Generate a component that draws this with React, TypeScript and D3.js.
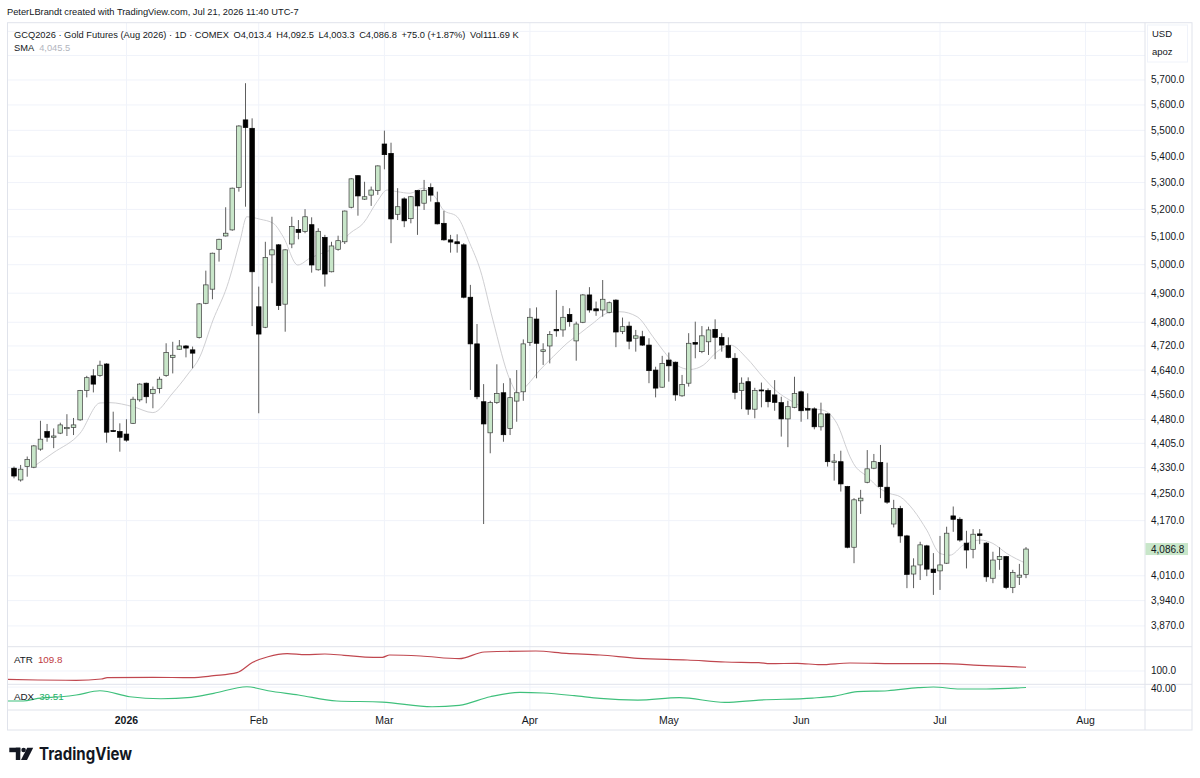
import React from "react";
import * as d3 from "d3";

const W = 1200;
const H = 778;

// ---- Daily candles, Dec 8 2025 .. Jul 21 2026 (GCQ2026) ----
const opens = [
  4328, 4292, 4333, 4331, 4387, 4442, 4424, 4437, 4451, 4455,
  4479, 4573, 4621, 4622, 4660, 4445, 4442, 4434, 4468, 4543,
  4597, 4564, 4580, 4622, 4682, 4709, 4720, 4707, 4748, 4865,
  4914, 5055, 5103, 5125, 5282, 5541, 5508, 4853, 4783, 5035,
  5071, 4862, 5074, 5127, 5119, 5144, 4982, 5098, 4975, 5055,
  5082, 5208, 5326, 5238, 5253, 5270, 5447, 5411, 5182, 5239,
  5166, 5270, 5223, 5281, 5225, 5149, 5089, 5082, 5071, 4886,
  4727, 4537, 4438, 4534, 4566, 4452, 4539, 4569, 4732, 4811,
  4702, 4720, 4776, 4774, 4827, 4737, 4800, 4894, 4846, 4842,
  4834, 4876, 4769, 4787, 4746, 4751, 4723, 4640, 4584, 4673,
  4666, 4556, 4597, 4732, 4701, 4734, 4776, 4749, 4721, 4679,
  4573, 4602, 4513, 4575, 4573, 4559, 4534, 4482, 4519, 4569,
  4515, 4514, 4457, 4498, 4346, 4348, 4272, 4092, 4229, 4285,
  4328, 4346, 4270, 4160, 4206, 4125, 4015, 4041, 4096, 4029,
  4024, 4046, 4184, 4174, 4104, 4086, 4131, 4104, 4003, 4057,
  4065, 3977, 4006, 4013.4,
];
const highs = [
  4333, 4338, 4364, 4400, 4476, 4466, 4452, 4470, 4497, 4485,
  4575, 4621, 4643, 4671, 4663, 4505, 4468, 4481, 4553, 4597,
  4599, 4586, 4618, 4729, 4734, 4740, 4723, 4718, 4866, 4979,
  5043, 5093, 5208, 5281, 5520, 5687, 5547, 4923, 5082, 5173,
  5074, 5055, 5173, 5161, 5201, 5171, 5131, 5107, 5082, 5104,
  5196, 5316, 5328, 5303, 5285, 5365, 5499, 5452, 5279, 5245,
  5250, 5272, 5310, 5297, 5266, 5195, 5107, 5109, 5077, 4929,
  4794, 4594, 4540, 4659, 4597, 4613, 4640, 4742, 4848, 4851,
  4729, 4770, 4911, 4856, 4848, 4802, 4897, 4921, 4871, 4946,
  4871, 4879, 4816, 4802, 4774, 4771, 4746, 4651, 4687, 4698,
  4668, 4624, 4763, 4802, 4787, 4785, 4810, 4763, 4749, 4696,
  4616, 4616, 4582, 4599, 4580, 4607, 4553, 4540, 4618, 4573,
  4564, 4519, 4534, 4500, 4372, 4382, 4274, 4237, 4262, 4384,
  4372, 4400, 4345, 4232, 4214, 4128, 4060, 4108, 4099, 4075,
  4125, 4152, 4212, 4180, 4140, 4145, 4145, 4107, 4079, 4092,
  4067, 4027, 4044, 4092.5,
];
const lows = [
  4297, 4287, 4302, 4328, 4382, 4410, 4390, 4434, 4428, 4431,
  4476, 4551, 4567, 4618, 4407, 4441, 4379, 4410, 4466, 4537,
  4532, 4516, 4564, 4618, 4629, 4707, 4682, 4646, 4745, 4862,
  4879, 5011, 5101, 5122, 5266, 5210, 4787, 4500, 4780, 4935,
  4842, 4768, 5059, 5091, 5113, 4972, 4979, 4923, 4973, 5050,
  5074, 5204, 5177, 5235, 5213, 5254, 5350, 5077, 5161, 5135,
  5149, 5107, 5198, 5229, 5145, 5086, 5043, 5043, 4882, 4575,
  4545, 4160, 4374, 4530, 4410, 4431, 4473, 4540, 4720, 4613,
  4657, 4662, 4751, 4751, 4785, 4671, 4797, 4833, 4822, 4819,
  4831, 4716, 4760, 4709, 4701, 4720, 4597, 4551, 4582, 4602,
  4540, 4553, 4586, 4679, 4696, 4690, 4676, 4701, 4679, 4545,
  4513, 4495, 4484, 4519, 4519, 4508, 4426, 4393, 4516, 4473,
  4481, 4449, 4445, 4333, 4290, 4257, 4089, 4046, 4190, 4282,
  4325, 4237, 4220, 4150, 4105, 3975, 3975, 3998, 4009, 3956,
  3970, 4044, 4137, 4108, 4031, 4060, 4101, 3993, 3989, 4027,
  3972, 3961, 3984, 4003.3,
];
const closes = [
  4304, 4325, 4355, 4397, 4418, 4424, 4428, 4463, 4455, 4463,
  4573, 4615, 4594, 4656, 4440, 4443, 4424, 4415, 4545, 4594,
  4553, 4577, 4610, 4698, 4689, 4720, 4713, 4696, 4863, 4929,
  5041, 5091, 5113, 5279, 5517, 5511, 4975, 4760, 5026, 5053,
  4857, 5053, 5137, 5116, 5173, 4999, 5120, 4967, 5067, 5086,
  5194, 5314, 5250, 5247, 5272, 5363, 5406, 5165, 5210, 5158,
  5247, 5213, 5270, 5253, 5147, 5089, 5081, 5075, 4886, 4727,
  4553, 4466, 4534, 4564, 4432, 4550, 4566, 4727, 4817, 4729,
  4707, 4759, 4771, 4817, 4802, 4794, 4894, 4842, 4839, 4879,
  4867, 4767, 4785, 4736, 4754, 4723, 4638, 4581, 4662, 4654,
  4559, 4593, 4729, 4726, 4754, 4774, 4749, 4723, 4682, 4567,
  4597, 4513, 4573, 4572, 4537, 4535, 4482, 4521, 4564, 4508,
  4510, 4457, 4498, 4348, 4350, 4280, 4092, 4232, 4237, 4326,
  4348, 4272, 4225, 4206, 4125, 4014, 4038, 4099, 4029, 4019,
  4041, 4133, 4174, 4113, 4084, 4130, 4126, 4007, 4055, 4065,
  3977, 4019, 4011.8, 4086.8,
];

// ---- SMA overlay (bar position, value) ----
const smaIdx = [
  2.9, 5.9, 10, 13, 14.5, 18, 21, 24, 26.2, 28.1, 30.1, 32.2, 34.2, 35.2, 37.2, 39.2,
  40.7, 42.9, 44.8, 46.7, 48.8, 50.8, 52.8, 54.9, 56.4, 57.9, 59.9, 61.8, 64, 64.9,
  67, 68.9, 70.5, 72.4, 75, 76.2, 77.6, 79.5, 81.5, 83.6, 85.6, 87.5, 89.7, 91.6,
  94.2, 96.6, 98.1, 100.2, 102.2, 104.2, 106.3, 108.3, 110.8, 113.2, 115.4, 117.3,
  119.9, 122.3, 124.4, 126.4, 126.9, 129, 130.9, 132.4, 134, 136, 138, 140, 141.5,
  143.5, 146.1, 148, 150.1, 153,
];
const smaVal = [
  4332, 4375, 4437, 4533, 4534, 4521, 4502, 4565, 4624, 4684, 4808, 4923, 5088, 5173, 5164, 5149,
  5100, 4999, 5024, 5042, 5064, 5113, 5149, 5229, 5272, 5266, 5260, 5279, 5235, 5198,
  5173, 5077, 4981, 4808, 4607, 4564, 4591, 4640, 4684, 4729, 4763, 4796, 4831, 4836,
  4819, 4751, 4706, 4656, 4642, 4656, 4701, 4723, 4679, 4618, 4569, 4542,
  4516, 4510, 4468, 4363, 4343, 4302, 4266, 4251, 4241, 4201, 4142, 4074, 4069,
  4098, 4113, 4103, 4074, 4045.5,
];

// ---- ATR pane ----
const atrIdx = [
  -1, 3.6, 9.4, 13.2, 14.1, 21, 26.8, 30.2, 33.7, 36.1, 38.4, 41.3, 44.1, 47, 49.9, 54.3,
  55.7, 56.8, 61.5, 67.3, 71.1, 78.9, 83.5, 88.6, 94.3, 101.8, 107.5, 112.6, 114.3,
  118.4, 121.9, 126.4, 134.4, 140.2, 145.9, 153,
];
const atrVal = [
  78.0, 76.2, 75.4, 78.8, 82.3, 83.3, 82.3, 87.6, 95.5, 123.0, 137.8, 145.8, 143.1, 145.0, 141.5, 136.2,
  136.2, 142.3, 139.7, 132.5, 150.3, 152.9, 146.8, 142.3, 133.6, 129.1, 123.8, 122.0, 119.3,
  120.4, 116.7, 121.2, 119.3, 119.3, 115.1, 109.8,
];

// ---- ADX pane ----
const adxIdx = [
  -1, 1.4, 3.6, 7.1, 9.4, 13, 17.5, 22.2, 26.8, 30.2, 35.2, 38.4, 43, 48.8, 55.7, 63.2,
  67.3, 72, 76.5, 80, 84.7, 88.6, 94.3, 100.6, 107.5, 112.6, 120.7, 124.1, 127.5,
  132.1, 136.7, 139, 143, 147, 153,
];
const adxVal = [
  24.0, 24.0, 27.1, 28.9, 30.9, 35.8, 28.9, 26.6, 28.2, 32.8, 40.4, 35.8, 30.9, 24.0, 22.8, 17.4,
  19.0, 28.9, 34.0, 33.2, 30.1, 26.9, 25.1, 27.8, 22.5, 25.1, 27.4, 29.7, 34.7,
  35.8, 39.3, 40.1, 37.8, 37.8, 39.51,
];

// ---- axes ----
const priceTicks = [5900, 5800, 5700, 5600, 5500, 5400, 5300, 5200, 5100, 5000, 4900, 4800,
  4720, 4640, 4560, 4480, 4405, 4330, 4250, 4170, 4010, 3940, 3870];
const priceTickLabelMax = 5700;
const monthLabels = ["2026", "Feb", "Mar", "Apr", "May", "Jun", "Jul", "Aug"];
const monthIdx = [17, 37, 56, 78, 99, 119, 140, 162];
const atrTick = 100;
const adxTick = 40;

const lastPrice = 4086.8;
const smaLast = 4045.5;
const atrLast = 109.8;
const adxLast = 39.51;

const legendParts = [
  "GCQ2026 · Gold Futures (Aug 2026) · 1D · COMEX",
  "O4,013.4",
  "H4,092.5",
  "L4,003.3",
  "C4,086.8",
  "+75.0 (+1.87%)",
  "Vol111.69 K",
];

// ---- layout ----
const L = 7, R = 1192, TOP = 22.7, MAIN_B = 646.7, ATR_B = 684.3, ADX_B = 710, BOT = 730, AXIS_X = 1145;
const FONT = "'Liberation Sans', Arial, sans-serif";
const TXT = "#131722";
const GRID = "#f0f3fa";
const BORDER = "#e0e3eb";
const UP_FILL = "#c8e6c9";
const ATR_C = "#c0474f";
const ADX_C = "#3fc07c";
const HEAD_FS = 9.3;

export default function App() {
  const x = d3.scaleLinear().domain([0, 153]).range([14, 1026]);
  const y = d3.scaleLog().domain([3813.3, 5936.4]).range([MAIN_B, TOP]);
  const yAtr = d3.scaleLinear().domain([64.8, 164.3]).range([ATR_B, MAIN_B]);
  const yAdx = d3.scaleLinear().domain([13.65, 43.19]).range([ADX_B, ATR_B]);
  const fmt = d3.format(",.1f");

  const smaPath = d3.line<number>()
    .x((_, i) => x(smaIdx[i]))
    .y((d) => y(d))
    .curve(d3.curveMonotoneX)(smaVal) || "";
  const atrPath = d3.line<number>()
    .x((_, i) => x(atrIdx[i]))
    .y((d) => yAtr(d))
    .curve(d3.curveMonotoneX)(atrVal) || "";
  const adxPath = d3.line<number>()
    .x((_, i) => x(adxIdx[i]))
    .y((d) => yAdx(d))
    .curve(d3.curveMonotoneX)(adxVal) || "";

  const bw = 4.6;

  return (
    <svg
      width={W}
      height={H}
      viewBox={`0 0 ${W} ${H}`}
      style={{ position: "absolute", left: 0, top: 0, background: "#fff", display: "block" }}
      fontFamily={FONT}
    >
      <rect x={0} y={0} width={W} height={H} fill="#fff" />
      <defs>
        <clipPath id="mainClip">
          <rect x={L} y={TOP} width={AXIS_X - L} height={MAIN_B - TOP} />
        </clipPath>
        <clipPath id="subClip">
          <rect x={L} y={MAIN_B} width={AXIS_X - L} height={ADX_B - MAIN_B} />
        </clipPath>
      </defs>

      {/* credit line */}
      <text x={7} y={15} fontSize={HEAD_FS} fill={TXT}>
        PeterLBrandt created with TradingView.com, Jul 21, 2026 11:40 UTC-7
      </text>

      {/* grid: horizontal price lines */}
      {priceTicks.map((t) => (
        <line key={"g" + t} x1={L} x2={AXIS_X} y1={y(t)} y2={y(t)} stroke={GRID} strokeWidth={1} />
      ))}
      {/* grid: vertical month lines */}
      {monthIdx.map((m, i) => (
        <line key={"v" + i} x1={x(m)} x2={x(m)} y1={TOP} y2={ADX_B} stroke={GRID} strokeWidth={1} />
      ))}
      {/* sub-pane grid */}
      <line x1={L} x2={AXIS_X} y1={yAtr(atrTick)} y2={yAtr(atrTick)} stroke={GRID} />
      <line x1={L} x2={AXIS_X} y1={yAdx(adxTick)} y2={yAdx(adxTick)} stroke={GRID} />

      {/* candles */}
      <g clipPath="url(#mainClip)">
        <path d={smaPath} fill="none" stroke="#cfcfd2" strokeWidth={1} />
        {opens.map((o, i) => {
          const c = closes[i];
          const up = c >= o;
          const cx = x(i);
          const top = y(Math.max(o, c));
          const bot = y(Math.min(o, c));
          const h = Math.max(bot - top, 1);
          return (
            <g key={"c" + i}>
              <line x1={cx} x2={cx} y1={y(highs[i])} y2={y(lows[i])} stroke="#5e5e5e" strokeWidth={1} />
              <rect
                x={cx - bw / 2}
                y={top}
                width={bw}
                height={h}
                fill={up ? UP_FILL : "#000"}
                stroke={up ? "#3c3c3c" : "#000"}
                strokeWidth={0.7}
              />
            </g>
          );
        })}
      </g>

      {/* ATR / ADX */}
      <g clipPath="url(#subClip)">
        <path d={atrPath} fill="none" stroke={ATR_C} strokeWidth={1.2} />
        <path d={adxPath} fill="none" stroke={ADX_C} strokeWidth={1.2} />
      </g>

      {/* frame & separators */}
      <rect x={L + 0.5} y={TOP} width={R - L - 0.5} height={BOT - TOP} fill="none" stroke={BORDER} />
      <line x1={L} x2={R} y1={MAIN_B} y2={MAIN_B} stroke={BORDER} />
      <line x1={L} x2={R} y1={ATR_B} y2={ATR_B} stroke={BORDER} />
      <line x1={L} x2={R} y1={ADX_B} y2={ADX_B} stroke={BORDER} />
      <line x1={AXIS_X} x2={AXIS_X} y1={TOP} y2={BOT} stroke={BORDER} />

      {/* legend */}
      <text x={14} y={37.5} fontSize={HEAD_FS} fill={TXT}>
        {legendParts.map((s, i) => (
          <tspan key={"lg" + i} dx={i === 0 ? 0 : 4.5}>{s}</tspan>
        ))}
      </text>
      <text x={14} y={51} fontSize={HEAD_FS} fill={TXT}>
        SMA<tspan dx={5} fill="#b2b5be">{fmt(smaLast)}</tspan>
      </text>
      <text x={14} y={662.5} fontSize={HEAD_FS + 0.5} fill={TXT}>
        ATR<tspan dx={5} fill="#c0393f">{atrLast.toFixed(1)}</tspan>
      </text>
      <text x={14} y={699.5} fontSize={HEAD_FS + 0.5} fill={TXT}>
        ADX<tspan dx={5} fill="#27b06a">{adxLast.toFixed(2)}</tspan>
      </text>

      {/* price axis labels */}
      {priceTicks.filter((t) => t <= priceTickLabelMax).map((t) => (
        <text key={"pl" + t} x={1151} y={y(t) + 3.5} fontSize={10} fill={TXT}>
          {fmt(t)}
        </text>
      ))}
      <rect x={AXIS_X + 0.5} y={y(lastPrice) - 6} width={42.5} height={12} fill={UP_FILL} />
      <text x={1151} y={y(lastPrice) + 3.5} fontSize={10} fill={TXT}>{fmt(lastPrice)}</text>
      <text x={1151} y={yAtr(atrTick) + 3.5} fontSize={10} fill={TXT}>{atrTick.toFixed(1)}</text>
      <text x={1151} y={yAdx(adxTick) + 4.5} fontSize={10} fill={TXT}>{adxTick.toFixed(2)}</text>

      {/* currency box */}
      <rect x={1147.5} y={25} width={40} height={37} fill="#fff" stroke="#f0f3fa" />
      <text x={1152} y={37} fontSize={9.5} fill={TXT}>USD</text>
      <text x={1152} y={55} fontSize={9.5} fill={TXT}>apoz</text>

      {/* time axis */}
      {monthLabels.map((m, i) => (
        <text
          key={"m" + i}
          x={x(monthIdx[i])}
          y={723.5}
          fontSize={10.5}
          textAnchor="middle"
          fontWeight={i === 0 ? 700 : 400}
          fill={TXT}
        >
          {m}
        </text>
      ))}

      {/* TradingView logo */}
      <g fill="#131722">
        <rect x={9.3} y={747.7} width={11} height={4.5} />
        <rect x={15.8} y={747.7} width={4.5} height={12.3} />
        <circle cx={23.6} cy={750} r={2.3} />
        <polygon points="27.2,747.7 33.2,747.7 27,760 21,760" />
      </g>
      <text x={39} y={760} fontSize={17} fontWeight={700} fill="#131722" fontFamily="Inter, 'Noto Sans', sans-serif" textLength={93} lengthAdjust="spacingAndGlyphs">
        TradingView
      </text>
    </svg>
  );
}
